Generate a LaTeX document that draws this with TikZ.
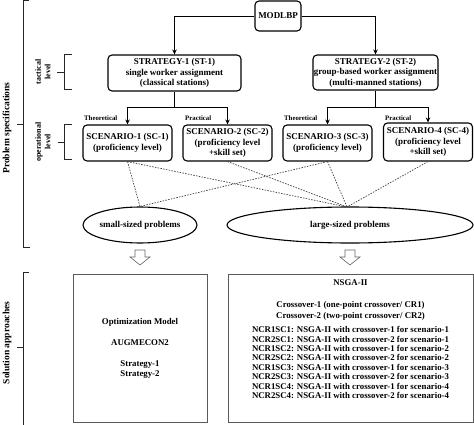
\documentclass[tikz,border=0pt]{standalone}
\usepackage{fontspec}
\setmainfont{Liberation Serif}
\usetikzlibrary{arrows.meta,shapes.geometric,calc}
\begin{document}
\begin{tikzpicture}[x=1pt,y=-1pt,
  rbox/.style={draw,line width=1.1pt,rounded corners=4pt,align=center,inner sep=0pt,
    font=\fontsize{9}{10.5}\selectfont\bfseries},
  ell/.style={draw,ellipse,line width=1.1pt,inner sep=0pt,font=\fontsize{9}{11}\selectfont\bfseries},
  sqbox/.style={draw=black!65,line width=0.7pt,inner sep=0pt},
  conn/.style={line width=0.8pt,-{Stealth[length=5pt,width=4.5pt]}},
  dl/.style={line width=0.7pt,black!75,dash pattern=on 1.5pt off 1.3pt},
  brk/.style={line width=1pt,black!85},
  hollow/.style={draw=black!60,line width=0.6pt,fill=white},
  lab/.style={font=\fontsize{6.8}{8}\selectfont\bfseries,inner sep=0pt,anchor=base west},
  side/.style={rotate=90,align=center,inner sep=0pt,font=\fontsize{9.5}{11}\selectfont\bfseries},
  lvl/.style={rotate=90,align=center,inner sep=0pt,font=\fontsize{8}{9.5}\selectfont\bfseries},
  txt/.style={align=center,inner sep=0pt,font=\fontsize{8.8}{9.4}\selectfont\bfseries}
]
\useasboundingbox (0,0) rectangle (474,425);

% top node
\node[rbox,minimum width=46pt,minimum height=30pt] (mod) at (278,16) {MODLBP};

% strategies
\node[rbox,minimum width=133pt,minimum height=36pt] (st1) at (174.5,73)
  {STRATEGY-1 (ST-1)\\single worker assignment\\(classical stations)};
\node[rbox,minimum width=125pt,minimum height=35pt] (st2) at (375.5,72.5)
  {STRATEGY-2 (ST-2)\\group-based worker assignment\\(multi-manned stations)};

% scenarios
\node[rbox,minimum width=89pt,minimum height=36pt] (sc1) at (127.5,143)
  {SCENARIO-1 (SC-1)\\(proficiency level)};
\node[rbox,minimum width=89pt,minimum height=36pt] (sc2) at (227.5,143)
  {SCENARIO-2 (SC-2)\\(proficiency level\\+skill set)};
\node[rbox,minimum width=89pt,minimum height=36pt] (sc3) at (327.5,143)
  {SCENARIO-3 (SC-3)\\(proficiency level)};
\node[rbox,minimum width=89pt,minimum height=38pt] (sc4) at (428,142)
  {SCENARIO-4 (SC-4)\\(proficiency level\\+skill set)};

% labels above scenarios
\node[lab] (t1) at (84,121) {Theoretical};
\node[lab] (p1) at (185,121) {Practical};
\node[lab] (t2) at (284,121) {Theoretical};
\node[lab] (p2) at (385,121) {Practical};

% connectors
\draw[conn] (mod.west) -| (st1.north);
\draw[conn] (mod.east) -| (st2.north);
\draw[line width=0.8pt] (st1.south) -- ++(0,16) coordinate (b1);
\draw[conn] (b1) -| (sc1.north);
\draw[conn] (b1) -| (sc2.north);
\draw[line width=0.8pt] (st2.south) -- ++(0,16.5) coordinate (b2);
\draw[conn] (b2) -| (sc3.north);
\draw[conn] (b2) -| (sc4.north);

% ellipses
\node[ell,minimum width=114pt,minimum height=36pt] (small) at (140,225) {small-sized problems};
\node[ell,minimum width=246pt,minimum height=36pt] (large) at (350,225) {large-sized problems};
\coordinate (lt) at (347,207);

% dashed links
\draw[dl] (sc1.south) -- (small.north);
\draw[dl] (sc1.south) -- (lt);
\draw[dl] (sc2.south) -- (lt);
\draw[dl] (sc3.south) -- (small.north);
\draw[dl] (sc3.south) -- (lt);
\draw[dl] (sc4.south) -- (lt);

% hollow arrows
\foreach \c in {140,350}{
  \draw[hollow] (\c-5,250) -- (\c+5,250) -- (\c+5,257) -- (\c+10,257) -- (\c,265)
    -- (\c-10,257) -- (\c-5,257) -- cycle;
}

% solution boxes
\draw[sqbox] (73,274) rectangle (207,422);
\draw[sqbox] (228,274) rectangle (473,422);
\node[txt] (om) at (140,322) {Optimization Model};
\node[txt] (aug) at (140,343) {AUGMECON2};
\node[txt] (strs) at (140,369.5) {Strategy-1\\Strategy-2};

\node[txt] (nsga) at (350.5,283) {NSGA-II};
\node[txt,font=\fontsize{8.8}{11}\selectfont\bfseries] (cross) at (350.5,310.5)
  {Crossover-1 (one-point crossover/ CR1)\\Crossover-2 (two-point crossover/ CR2)};
\node[txt] (ncr) at (350.5,362.5) {%
NCR1SC1: NSGA-II with crossover-1 for scenario-1\\
NCR2SC1: NSGA-II with crossover-2 for scenario-1\\
NCR1SC2: NSGA-II with crossover-1 for scenario-2\\
NCR2SC2: NSGA-II with crossover-2 for scenario-2\\
NCR1SC3: NSGA-II with crossover-1 for scenario-3\\
NCR2SC3: NSGA-II with crossover-2 for scenario-3\\
NCR1SC4: NSGA-II with crossover-1 for scenario-4\\
NCR2SC4: NSGA-II with crossover-2 for scenario-4};

% left brackets
\draw[brk] (29,1) -- (23,1) -- (23,247) -- (30,247);
\draw[brk] (23,125) -- (17,125);
\draw[brk] (29,272) -- (23,272) -- (23,426);
\draw[brk] (23,347) -- (17,347);
\node[side] (ps) at (7,128) {Problem specifications};
\node[side] (sa) at (7,343) {Solution approaches};

\draw[brk] (72,55) -- (64,55) -- (64,90) -- (72,90);
\draw[brk] (64,72.5) -- (57,72.5);
\draw[brk] (72,125) -- (64,125) -- (64,160) -- (72,160);
\draw[brk] (64,142.5) -- (58,142.5);
\node[lvl] (tl) at (43,72) {tactical\\level};
\node[lvl] (ol) at (43,142) {operational\\level};
\end{tikzpicture}
\end{document}
